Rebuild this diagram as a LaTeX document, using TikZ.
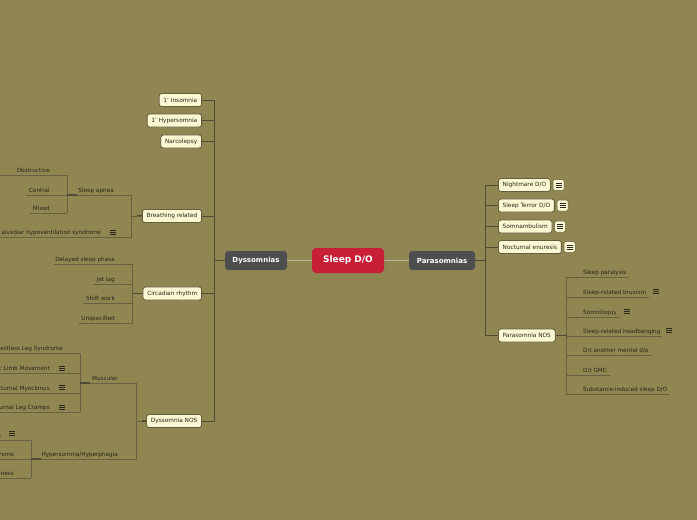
\documentclass[tikz,border=0pt]{standalone}
\usepackage{fontspec}
\setmainfont{DejaVu Sans}
\definecolor{bg}{RGB}{144,134,82}
\definecolor{rootred}{RGB}{200,30,54}
\definecolor{maingray}{RGB}{78,78,78}
\definecolor{boxfill}{RGB}{251,247,210}
\definecolor{boxline}{RGB}{100,93,62}
\definecolor{brline}{RGB}{80,75,55}
\definecolor{leafline}{RGB}{105,97,66}
\definecolor{txt}{RGB}{40,38,26}
\definecolor{rootconn}{RGB}{185,182,160}
\tikzset{
  rootbox/.style={fill=rootred, rounded corners=4pt, minimum width=72pt, minimum height=25pt, text=white, font=\fontsize{9}{10}\selectfont\bfseries, inner sep=0pt},
  mainbox/.style={fill=maingray, rounded corners=3pt, minimum height=19pt, text=white, font=\fontsize{7}{8}\selectfont\bfseries, inner sep=0pt},
  topicbox/.style={fill=boxfill, draw=boxline, line width=0.8pt, rounded corners=2.5pt, minimum height=13pt, inner xsep=4.3pt, inner ysep=0pt, text=txt, font=\fontsize{5.8}{6}\selectfont},
  leaf/.style={text=txt, font=\fontsize{5.7}{6}\selectfont, inner sep=0pt},
  rootlink/.style={draw=rootconn, line width=0.9pt},
  mainlink/.style={draw=brline, line width=1pt},
  sublink/.style={draw=brline, line width=1.6pt},
  vline/.style={draw=leafline, line width=0.9pt},
  uline/.style={draw=leafline, line width=0.9pt},
  noteicon/.style={minimum size=10pt, inner sep=0pt, path picture={
     \draw[txt, line width=0.6pt] ([xshift=-3pt,yshift=2.2pt]path picture bounding box.center) -- ++(6pt,0)
       ([xshift=-3pt]path picture bounding box.center) -- ++(6pt,0)
       ([xshift=-3pt,yshift=-2.2pt]path picture bounding box.center) -- ++(6pt,0);}},
  boxicon/.style={noteicon, fill=boxfill, draw=boxline, line width=0.5pt, rounded corners=1.5pt, minimum size=11pt},
}
\begin{document}
\begin{tikzpicture}[x=1pt,y=-1pt]
\clip (0,0) rectangle (697,520);
\fill[bg] (0,0) rectangle (697,520);

% root and main topics
\node[rootbox] (root) at (348,260.5) {Sleep D/O};
\node[mainbox, minimum width=62pt] (dys) at (256,260.5) {Dyssomnias};
\node[mainbox, minimum width=66pt] (par) at (442,260.5) {Parasomnias};
\draw[rootlink] (root.west) -- (dys.east);
\draw[rootlink] (root.east) -- (par.east -| par.west);

% Dyssomnias children
\node[topicbox, anchor=east] (ins) at (202,100) {1' Insomnia};
\node[topicbox, anchor=east] (hyp) at (202,120.5) {1' Hypersomnia};
\node[topicbox, anchor=east] (nar) at (202,141.5) {Narcolepsy};
\node[topicbox, anchor=east] (bre) at (202,216) {Breathing related};
\node[topicbox, anchor=east] (cir) at (202,293.5) {Circadian rhythm};
\node[topicbox, anchor=east] (nos) at (202,421) {Dyssomnia NOS};
\foreach \c in {ins,hyp,nar,bre,cir,nos}
  \draw[mainlink] (dys.west) -- ++(-10,0) |- (\c.east);

% Parasomnias children
\node[topicbox, anchor=west] (nig) at (498,185) {Nightmare D/O};
\node[topicbox, anchor=west] (ter) at (498,205.5) {Sleep Terror D/O};
\node[topicbox, anchor=west] (som) at (498,226.5) {Somnambulism};
\node[topicbox, anchor=west] (enu) at (498,247) {Nocturnal enuresis};
\node[topicbox, anchor=west] (pnos) at (498,335.5) {Parasomnia NOS};
\foreach \c in {nig,ter,som,enu,pnos}
  \draw[mainlink] (par.east) -- ++(10,0) |- (\c.west);
\node[boxicon, anchor=west] (nigi) at ([xshift=2pt]nig.east) {};
\node[boxicon, anchor=west] (teri) at ([xshift=2pt]ter.east) {};
\node[boxicon, anchor=west] (somi) at ([xshift=2pt]som.east) {};
\node[boxicon, anchor=west] (enui) at ([xshift=2pt]enu.east) {};

% ---- Breathing related
\coordinate (sa-l) at (67,195);   \coordinate (sa-r) at (131,195);
\coordinate (ca-l) at (0,237);    \coordinate (ca-r) at (131,237);
\node[leaf, anchor=base east] (sa) at (114,192) {Sleep apnea};
\node[leaf, anchor=base east] (ca) at (101,234) {Central alveolar hypoventilation syndrome};
\node[noteicon] (cai) at (113,232) {};
\draw[uline] (sa-l) -- (sa-r);
\draw[uline] (ca-l) -- (ca-r);
\draw[sublink] (bre.west) -- ++(-5,0);
\draw[vline] (bre.west) -- ++(-11,0) |- (sa-r);
\draw[vline] (bre.west) -- ++(-11,0) |- (ca-r);
% Sleep apnea children
\coordinate (ob-l) at (0,175);  \coordinate (ob-r) at (67,175);
\coordinate (ce-l) at (26,195); \coordinate (ce-r) at (67,195);
\coordinate (mi-l) at (30,213); \coordinate (mi-r) at (67,213);
\node[leaf, anchor=base east] (ob) at (50,172) {Obstructive};
\node[leaf, anchor=base east] (ce) at (50,192) {Central};
\node[leaf, anchor=base east] (mi) at (50,210) {Mixed};
\draw[uline] (ob-l) -- (ob-r);
\draw[uline] (ce-l) -- (ce-r);
\draw[uline] (mi-l) -- (mi-r);
\draw[vline] (sa-l) |- (ob-r);
\draw[vline] (sa-l) |- (mi-r);
\draw[sublink] (sa-l) -- ++(10,0);

% ---- Circadian rhythm
\coordinate (ds-l) at (54,264); \coordinate (ds-r) at (132,264);
\coordinate (jl-l) at (93,284); \coordinate (jl-r) at (132,284);
\coordinate (sw-l) at (83,303); \coordinate (sw-r) at (132,303);
\coordinate (un-l) at (79,323); \coordinate (un-r) at (132,323);
\node[leaf, anchor=base east] (ds) at (115,261) {Delayed sleep phase};
\node[leaf, anchor=base east] (jl) at (115,281) {Jet lag};
\node[leaf, anchor=base east] (sw) at (115,300) {Shift work};
\node[leaf, anchor=base east] (un) at (115,320) {Unspecified};
\foreach \c in {ds,jl,sw,un} \draw[uline] (\c-l) -- (\c-r);
\draw[vline] (cir.west) -- ++(-10,0) |- (ds-r);
\draw[vline] (cir.west) -- ++(-10,0) |- (un-r);
\draw[sublink] (cir.west) -- ++(-10,0);

% ---- Dyssomnia NOS
\coordinate (mu-l) at (80,383); \coordinate (mu-r) at (135,383);
\coordinate (hh-l) at (31,459); \coordinate (hh-r) at (135,459);
\node[leaf, anchor=base east] (mu) at (118,380) {Muscular};
\node[leaf, anchor=base east] (hh) at (118,456) {Hypersomnia/Hyperphagia};
\draw[uline] (mu-l) -- (mu-r);
\draw[uline] (hh-l) -- (hh-r);
\draw[vline] (nos.west) -- ++(-10,0) |- (mu-r);
\draw[vline] (nos.west) -- ++(-10,0) |- (hh-r);
\draw[sublink] (nos.west) -- ++(-4,0);
% Muscular children
\coordinate (rl-l) at (0,353); \coordinate (rl-r) at (80,353);
\coordinate (pl-l) at (0,373); \coordinate (pl-r) at (80,373);
\coordinate (nm-l) at (0,393); \coordinate (nm-r) at (80,393);
\coordinate (lc-l) at (0,412); \coordinate (lc-r) at (80,412);
\node[leaf, anchor=base east] (rl) at (63,350) {Restless Leg Syndrome};
\node[leaf, anchor=base east] (pl) at (50,370) {Periodic Limb Movement};
\node[leaf, anchor=base east] (nm) at (50,390) {Nocturnal Myoclonus};
\node[leaf, anchor=base east] (lc) at (50,409) {Nocturnal Leg Cramps};
\node[noteicon] (pli) at (62,368) {};
\node[noteicon] (nmi) at (62,387.5) {};
\node[noteicon] (lci) at (62,407) {};
\foreach \c in {rl,pl,nm,lc} \draw[uline] (\c-l) -- (\c-r);
\draw[vline] (mu-l) |- (rl-r);
\draw[vline] (mu-l) |- (lc-r);
\draw[sublink] (mu-l) -- ++(10,0);
% Hypersomnia/Hyperphagia children
\coordinate (kl-l) at (0,440); \coordinate (kl-r) at (31,440);
\coordinate (ma-l) at (0,459); \coordinate (ma-r) at (31,459);
\coordinate (sd-l) at (0,478); \coordinate (sd-r) at (31,478);
\node[leaf, anchor=base east] (kl) at (1,437) {Kleine-Levin Syndrome};
\node[leaf, anchor=base east] (ma) at (14,456) {Menstrual-associated Syndrome};
\node[leaf, anchor=base east] (sd) at (14,475) {Sleep Drunkenness};
\node[noteicon] (kli) at (12,433) {};
\foreach \c in {kl,ma,sd} \draw[uline] (\c-l) -- (\c-r);
\draw[vline] (hh-l) |- (kl-r);
\draw[vline] (hh-l) |- (sd-r);
\draw[sublink] (hh-l) -- ++(10,0);

% ---- Parasomnia NOS
\coordinate (sp-l) at (567,277); \coordinate (sp-r) at (629,277);
\coordinate (br-l) at (567,297); \coordinate (br-r) at (649,297);
\coordinate (sq-l) at (567,317); \coordinate (sq-r) at (620,317);
\coordinate (hb-l) at (567,336); \coordinate (hb-r) at (662,336);
\coordinate (am-l) at (567,355); \coordinate (am-r) at (652,355);
\coordinate (gm-l) at (567,375); \coordinate (gm-r) at (611,375);
\coordinate (si-l) at (567,394); \coordinate (si-r) at (670,394);
\node[leaf, anchor=base west] (sp) at (583,274) {Sleep paralysis};
\node[leaf, anchor=base west] (br) at (583,294) {Sleep-related bruxism};
\node[leaf, anchor=base west] (sq) at (583,314) {Somniloquy};
\node[leaf, anchor=base west] (hb) at (583,333) {Sleep-related headbanging};
\node[leaf, anchor=base west] (am) at (583,352) {D/t another mental d/o};
\node[leaf, anchor=base west] (gm) at (583,372) {D/t GMC};
\node[leaf, anchor=base west] (si) at (583,391) {Substance-induced sleep D/O};
\node[noteicon] (bri) at (656,291.5) {};
\node[noteicon] (sqi) at (627,311) {};
\node[noteicon] (hbi) at (669,330) {};
\foreach \c in {sp,br,sq,hb,am,gm,si} \draw[uline] (\c-l) -- (\c-r);
\draw[vline] (pnos.east) -- ++(11,0) |- (sp-l);
\draw[vline] (pnos.east) -- ++(11,0) |- (si-l);
\draw[sublink] (pnos.east) -- ++(11,0);
\end{tikzpicture}
\end{document}
